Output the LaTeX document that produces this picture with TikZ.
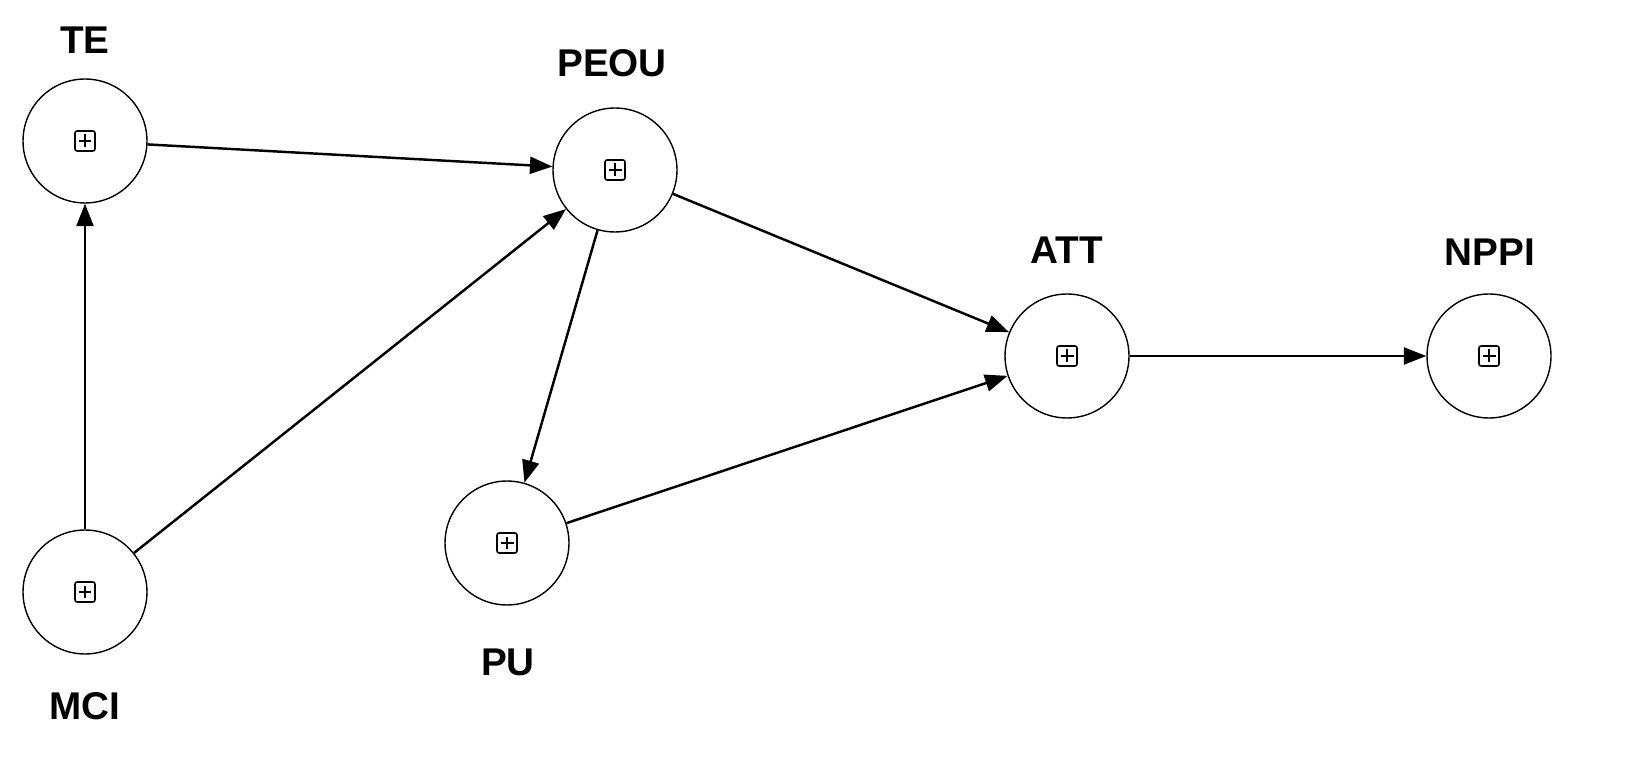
\documentclass[tikz,border=0pt]{standalone}
\usepackage{fontspec}
\setmainfont{Liberation Sans}
\usetikzlibrary{arrows.meta}
\begin{document}
\begin{tikzpicture}[x=0.02cm,y=-0.02cm,
  lv/.style={circle,draw,line width=0.8pt,minimum size=2.48cm,inner sep=0pt,
    path picture={\draw[line width=0.9pt,rounded corners=1.2pt] ([shift={(-0.2cm,-0.2cm)}]path picture bounding box.center) rectangle ([shift={(0.2cm,0.2cm)}]path picture bounding box.center);
    \draw[line width=0.9pt] ([shift={(-0.13cm,0)}]path picture bounding box.center) -- ([shift={(0.13cm,0)}]path picture bounding box.center)
    ([shift={(0,-0.13cm)}]path picture bounding box.center) -- ([shift={(0,0.13cm)}]path picture bounding box.center);}},
  lab/.style={font=\fontsize{22}{26}\selectfont\bfseries},
  ar/.style={draw,line width=1.4pt,-{Triangle[length=0.45cm,width=0.34cm]}}]
\useasboundingbox (0,0) rectangle (1633,766);
\node[lv] (TE) at (85,141) {};
\node[lv] (PEOU) at (615,170) {};
\node[lv] (ATT) at (1067,356) {};
\node[lv] (NPPI) at (1489,356) {};
\node[lv] (PU) at (507,543) {};
\node[lv] (MCI) at (85,592) {};
\node[lab] (lTE) at (85,40) {TE};
\node[lab] (lPEOU) at (612,63) {PEOU};
\node[lab] (lATT) at (1067,250) {ATT};
\node[lab] (lNPPI) at (1490,252) {NPPI};
\node[lab] (lPU) at (508,662) {PU};
\node[lab] (lMCI) at (85,706) {MCI};
\draw[ar] (TE) -- (PEOU);
\draw[ar] (MCI) -- (TE);
\draw[ar] (MCI) -- (PEOU);
\draw[ar] (PEOU) -- (ATT);
\draw[ar] (PEOU) -- (PU);
\draw[ar] (PU) -- (ATT);
\draw[ar] (ATT) -- (NPPI);
\end{tikzpicture}
\end{document}
